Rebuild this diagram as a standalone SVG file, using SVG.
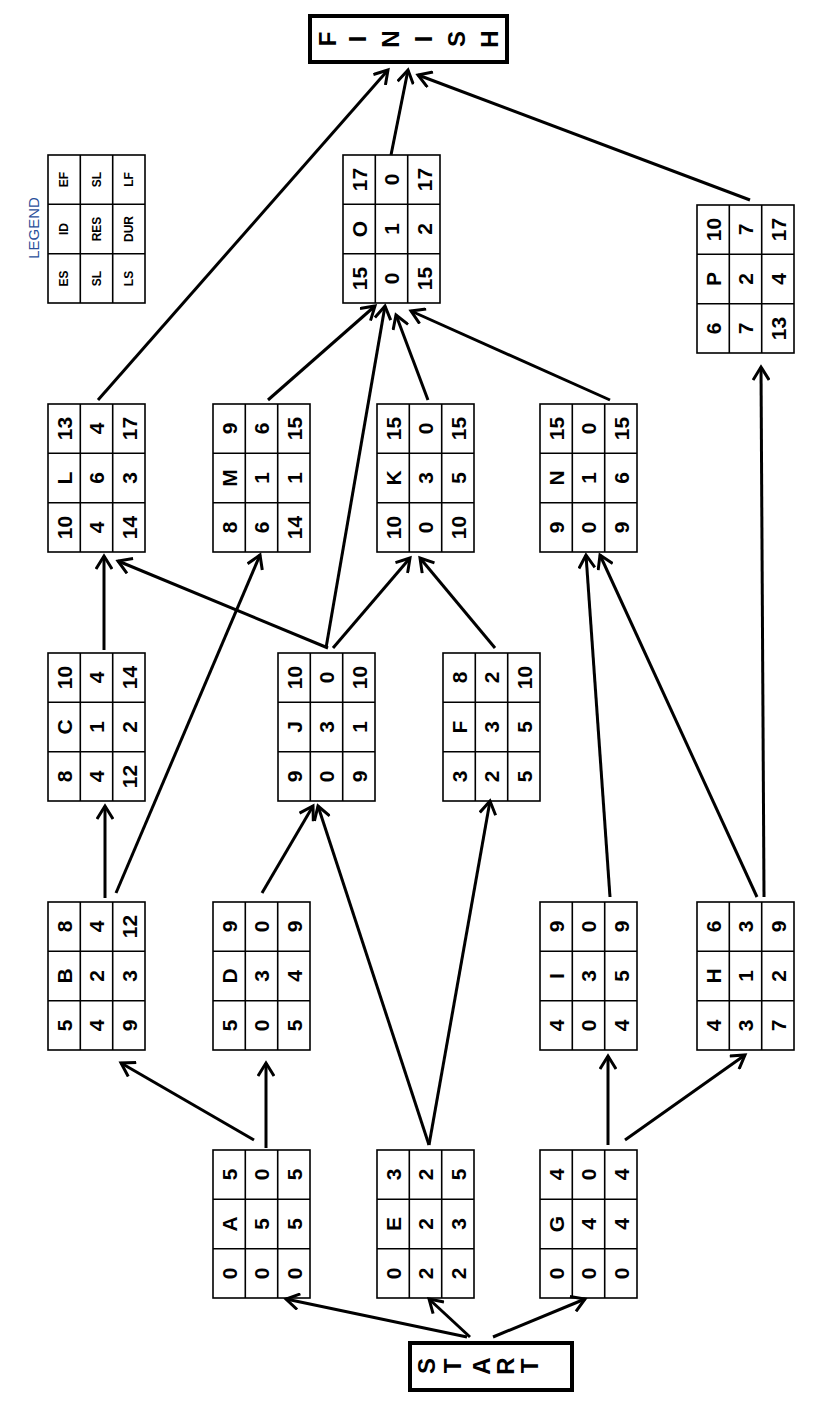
<svg xmlns="http://www.w3.org/2000/svg" width="826" height="1416" viewBox="0 0 826 1416">
<style>
.c{fill:none;stroke:#000;stroke-width:1.6}
.b{fill:#fff;stroke:#000;stroke-width:4}
text{font-family:"Liberation Sans",Arial,sans-serif;font-weight:bold;font-size:21px;text-anchor:middle;dominant-baseline:central;fill:#000}
.lg{font-size:12px}
.t{font-size:24px}
.e{stroke:#000;stroke-width:3;fill:none;marker-end:url(#a)}
</style>
<defs>
<marker id="a" markerWidth="18" markerHeight="18" refX="15" refY="9" orient="auto" markerUnits="userSpaceOnUse"><path d="M2,1 L15,9 L2,17" fill="none" stroke="#000" stroke-width="3"/></marker>
<g id="grid"><rect class="c" x="0" y="0" width="97" height="148" fill="#fff"/><path class="c" d="M32.3,0V148M64.7,0V148M0,49.3H97M0,98.7H97"/></g>
</defs>
<g id="connectors">
<line class="e" x1="467" y1="1337" x2="286" y2="1299"/>
<line class="e" x1="470" y1="1337" x2="429" y2="1299"/>
<line class="e" x1="493" y1="1337" x2="585" y2="1299"/>
<line class="e" x1="266" y1="1148" x2="266" y2="1063"/>
<line class="e" x1="254" y1="1140" x2="121" y2="1063"/>
<line class="e" x1="429" y1="1145" x2="490" y2="801"/>
<line class="e" x1="429" y1="1145" x2="318" y2="806"/>
<line class="e" x1="608" y1="1145" x2="608" y2="1056"/>
<line class="e" x1="625" y1="1140" x2="745" y2="1055"/>
<line class="e" x1="105" y1="898" x2="105" y2="806"/>
<line class="e" x1="116" y1="893" x2="260" y2="555"/>
<line class="e" x1="262" y1="893" x2="313" y2="806"/>
<line class="e" x1="610" y1="897" x2="586" y2="555"/>
<line class="e" x1="757" y1="897" x2="600" y2="555"/>
<line class="e" x1="764" y1="897" x2="761" y2="367"/>
<line class="e" x1="104" y1="650" x2="104" y2="556"/>
<line class="e" x1="328" y1="648" x2="118" y2="561"/>
<line class="e" x1="333" y1="648" x2="410" y2="558"/>
<line class="e" x1="326" y1="648" x2="385" y2="306"/>
<line class="e" x1="495" y1="648" x2="420" y2="558"/>
<line class="e" x1="98" y1="400" x2="388" y2="70"/>
<line class="e" x1="268" y1="400" x2="375" y2="306"/>
<line class="e" x1="428" y1="400" x2="396" y2="315"/>
<line class="e" x1="610" y1="400" x2="411" y2="311"/>
<line class="e" x1="391" y1="155" x2="408" y2="70"/>
<line class="e" x1="750" y1="200" x2="418" y2="75"/>
</g>
<g id="finish"><rect class="b" x="310" y="16" width="197" height="46"/>
<text class="t" transform="translate(327,39) rotate(-90)">F</text><text class="t" transform="translate(357,39) rotate(-90)">I</text><text class="t" transform="translate(390,39) rotate(-90)">N</text><text class="t" transform="translate(423,39) rotate(-90)">I</text><text class="t" transform="translate(456,39) rotate(-90)">S</text><text class="t" transform="translate(489,39) rotate(-90)">H</text></g>
<g id="start"><rect class="b" x="410" y="1343" width="162" height="47"/>
<text class="t" transform="translate(426,1366) rotate(-90)">S</text><text class="t" transform="translate(452,1366) rotate(-90)">T</text><text class="t" transform="translate(481,1366) rotate(-90)">A</text><text class="t" transform="translate(505,1366) rotate(-90)">R</text><text class="t" transform="translate(529,1366) rotate(-90)">T</text></g>
<g id="legend">
<text transform="translate(33,228) rotate(-90)" style="font-weight:normal;font-size:15px;fill:#2a4f9a">LEGEND</text>
<g transform="translate(48,155)"><use href="#grid"/>
<text class="lg" transform="translate(16,123.5) rotate(-90)">ES</text><text class="lg" transform="translate(16,74) rotate(-90)">ID</text><text class="lg" transform="translate(16,24.5) rotate(-90)">EF</text>
<text class="lg" transform="translate(48.5,123.5) rotate(-90)">SL</text><text class="lg" transform="translate(48.5,74) rotate(-90)">RES</text><text class="lg" transform="translate(48.5,24.5) rotate(-90)">SL</text>
<text class="lg" transform="translate(81,123.5) rotate(-90)">LS</text><text class="lg" transform="translate(81,74) rotate(-90)">DUR</text><text class="lg" transform="translate(81,24.5) rotate(-90)">LF</text></g></g>
<g id="O" transform="translate(343,155)"><use href="#grid"/><text transform="translate(16,123.5) rotate(-90)">15</text><text transform="translate(16,74) rotate(-90)">O</text><text transform="translate(16,24.5) rotate(-90)">17</text><text transform="translate(48.5,123.5) rotate(-90)">0</text><text transform="translate(48.5,74) rotate(-90)">1</text><text transform="translate(48.5,24.5) rotate(-90)">0</text><text transform="translate(81,123.5) rotate(-90)">15</text><text transform="translate(81,74) rotate(-90)">2</text><text transform="translate(81,24.5) rotate(-90)">17</text></g>
<g id="P" transform="translate(697,205)"><use href="#grid"/><text transform="translate(16,123.5) rotate(-90)">6</text><text transform="translate(16,74) rotate(-90)">P</text><text transform="translate(16,24.5) rotate(-90)">10</text><text transform="translate(48.5,123.5) rotate(-90)">7</text><text transform="translate(48.5,74) rotate(-90)">2</text><text transform="translate(48.5,24.5) rotate(-90)">7</text><text transform="translate(81,123.5) rotate(-90)">13</text><text transform="translate(81,74) rotate(-90)">4</text><text transform="translate(81,24.5) rotate(-90)">17</text></g>
<g id="L" transform="translate(48,404)"><use href="#grid"/><text transform="translate(16,123.5) rotate(-90)">10</text><text transform="translate(16,74) rotate(-90)">L</text><text transform="translate(16,24.5) rotate(-90)">13</text><text transform="translate(48.5,123.5) rotate(-90)">4</text><text transform="translate(48.5,74) rotate(-90)">6</text><text transform="translate(48.5,24.5) rotate(-90)">4</text><text transform="translate(81,123.5) rotate(-90)">14</text><text transform="translate(81,74) rotate(-90)">3</text><text transform="translate(81,24.5) rotate(-90)">17</text></g>
<g id="M" transform="translate(213,404)"><use href="#grid"/><text transform="translate(16,123.5) rotate(-90)">8</text><text transform="translate(16,74) rotate(-90)">M</text><text transform="translate(16,24.5) rotate(-90)">9</text><text transform="translate(48.5,123.5) rotate(-90)">6</text><text transform="translate(48.5,74) rotate(-90)">1</text><text transform="translate(48.5,24.5) rotate(-90)">6</text><text transform="translate(81,123.5) rotate(-90)">14</text><text transform="translate(81,74) rotate(-90)">1</text><text transform="translate(81,24.5) rotate(-90)">15</text></g>
<g id="K" transform="translate(377,404)"><use href="#grid"/><text transform="translate(16,123.5) rotate(-90)">10</text><text transform="translate(16,74) rotate(-90)">K</text><text transform="translate(16,24.5) rotate(-90)">15</text><text transform="translate(48.5,123.5) rotate(-90)">0</text><text transform="translate(48.5,74) rotate(-90)">3</text><text transform="translate(48.5,24.5) rotate(-90)">0</text><text transform="translate(81,123.5) rotate(-90)">10</text><text transform="translate(81,74) rotate(-90)">5</text><text transform="translate(81,24.5) rotate(-90)">15</text></g>
<g id="N" transform="translate(540,404)"><use href="#grid"/><text transform="translate(16,123.5) rotate(-90)">9</text><text transform="translate(16,74) rotate(-90)">N</text><text transform="translate(16,24.5) rotate(-90)">15</text><text transform="translate(48.5,123.5) rotate(-90)">0</text><text transform="translate(48.5,74) rotate(-90)">1</text><text transform="translate(48.5,24.5) rotate(-90)">0</text><text transform="translate(81,123.5) rotate(-90)">9</text><text transform="translate(81,74) rotate(-90)">6</text><text transform="translate(81,24.5) rotate(-90)">15</text></g>
<g id="C" transform="translate(48,653)"><use href="#grid"/><text transform="translate(16,123.5) rotate(-90)">8</text><text transform="translate(16,74) rotate(-90)">C</text><text transform="translate(16,24.5) rotate(-90)">10</text><text transform="translate(48.5,123.5) rotate(-90)">4</text><text transform="translate(48.5,74) rotate(-90)">1</text><text transform="translate(48.5,24.5) rotate(-90)">4</text><text transform="translate(81,123.5) rotate(-90)">12</text><text transform="translate(81,74) rotate(-90)">2</text><text transform="translate(81,24.5) rotate(-90)">14</text></g>
<g id="J" transform="translate(278,653)"><use href="#grid"/><text transform="translate(16,123.5) rotate(-90)">9</text><text transform="translate(16,74) rotate(-90)">J</text><text transform="translate(16,24.5) rotate(-90)">10</text><text transform="translate(48.5,123.5) rotate(-90)">0</text><text transform="translate(48.5,74) rotate(-90)">3</text><text transform="translate(48.5,24.5) rotate(-90)">0</text><text transform="translate(81,123.5) rotate(-90)">9</text><text transform="translate(81,74) rotate(-90)">1</text><text transform="translate(81,24.5) rotate(-90)">10</text></g>
<g id="F" transform="translate(443,653)"><use href="#grid"/><text transform="translate(16,123.5) rotate(-90)">3</text><text transform="translate(16,74) rotate(-90)">F</text><text transform="translate(16,24.5) rotate(-90)">8</text><text transform="translate(48.5,123.5) rotate(-90)">2</text><text transform="translate(48.5,74) rotate(-90)">3</text><text transform="translate(48.5,24.5) rotate(-90)">2</text><text transform="translate(81,123.5) rotate(-90)">5</text><text transform="translate(81,74) rotate(-90)">5</text><text transform="translate(81,24.5) rotate(-90)">10</text></g>
<g id="B" transform="translate(48,902)"><use href="#grid"/><text transform="translate(16,123.5) rotate(-90)">5</text><text transform="translate(16,74) rotate(-90)">B</text><text transform="translate(16,24.5) rotate(-90)">8</text><text transform="translate(48.5,123.5) rotate(-90)">4</text><text transform="translate(48.5,74) rotate(-90)">2</text><text transform="translate(48.5,24.5) rotate(-90)">4</text><text transform="translate(81,123.5) rotate(-90)">9</text><text transform="translate(81,74) rotate(-90)">3</text><text transform="translate(81,24.5) rotate(-90)">12</text></g>
<g id="D" transform="translate(213,902)"><use href="#grid"/><text transform="translate(16,123.5) rotate(-90)">5</text><text transform="translate(16,74) rotate(-90)">D</text><text transform="translate(16,24.5) rotate(-90)">9</text><text transform="translate(48.5,123.5) rotate(-90)">0</text><text transform="translate(48.5,74) rotate(-90)">3</text><text transform="translate(48.5,24.5) rotate(-90)">0</text><text transform="translate(81,123.5) rotate(-90)">5</text><text transform="translate(81,74) rotate(-90)">4</text><text transform="translate(81,24.5) rotate(-90)">9</text></g>
<g id="I" transform="translate(540,902)"><use href="#grid"/><text transform="translate(16,123.5) rotate(-90)">4</text><text transform="translate(16,74) rotate(-90)">I</text><text transform="translate(16,24.5) rotate(-90)">9</text><text transform="translate(48.5,123.5) rotate(-90)">0</text><text transform="translate(48.5,74) rotate(-90)">3</text><text transform="translate(48.5,24.5) rotate(-90)">0</text><text transform="translate(81,123.5) rotate(-90)">4</text><text transform="translate(81,74) rotate(-90)">5</text><text transform="translate(81,24.5) rotate(-90)">9</text></g>
<g id="H" transform="translate(697,902)"><use href="#grid"/><text transform="translate(16,123.5) rotate(-90)">4</text><text transform="translate(16,74) rotate(-90)">H</text><text transform="translate(16,24.5) rotate(-90)">6</text><text transform="translate(48.5,123.5) rotate(-90)">3</text><text transform="translate(48.5,74) rotate(-90)">1</text><text transform="translate(48.5,24.5) rotate(-90)">3</text><text transform="translate(81,123.5) rotate(-90)">7</text><text transform="translate(81,74) rotate(-90)">2</text><text transform="translate(81,24.5) rotate(-90)">9</text></g>
<g id="A" transform="translate(213,1150)"><use href="#grid"/><text transform="translate(16,123.5) rotate(-90)">0</text><text transform="translate(16,74) rotate(-90)">A</text><text transform="translate(16,24.5) rotate(-90)">5</text><text transform="translate(48.5,123.5) rotate(-90)">0</text><text transform="translate(48.5,74) rotate(-90)">5</text><text transform="translate(48.5,24.5) rotate(-90)">0</text><text transform="translate(81,123.5) rotate(-90)">0</text><text transform="translate(81,74) rotate(-90)">5</text><text transform="translate(81,24.5) rotate(-90)">5</text></g>
<g id="E" transform="translate(377,1150)"><use href="#grid"/><text transform="translate(16,123.5) rotate(-90)">0</text><text transform="translate(16,74) rotate(-90)">E</text><text transform="translate(16,24.5) rotate(-90)">3</text><text transform="translate(48.5,123.5) rotate(-90)">2</text><text transform="translate(48.5,74) rotate(-90)">2</text><text transform="translate(48.5,24.5) rotate(-90)">2</text><text transform="translate(81,123.5) rotate(-90)">2</text><text transform="translate(81,74) rotate(-90)">3</text><text transform="translate(81,24.5) rotate(-90)">5</text></g>
<g id="G" transform="translate(540,1150)"><use href="#grid"/><text transform="translate(16,123.5) rotate(-90)">0</text><text transform="translate(16,74) rotate(-90)">G</text><text transform="translate(16,24.5) rotate(-90)">4</text><text transform="translate(48.5,123.5) rotate(-90)">0</text><text transform="translate(48.5,74) rotate(-90)">4</text><text transform="translate(48.5,24.5) rotate(-90)">0</text><text transform="translate(81,123.5) rotate(-90)">0</text><text transform="translate(81,74) rotate(-90)">4</text><text transform="translate(81,24.5) rotate(-90)">4</text></g>
</svg>
